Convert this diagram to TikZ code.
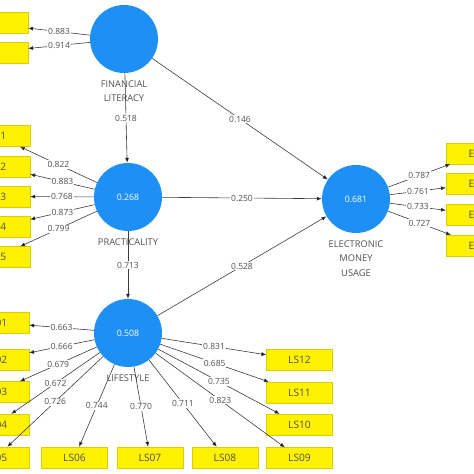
\documentclass[tikz,border=0pt]{standalone}
\usepackage{fontspec}
\setmainfont{Open Sans}
\usetikzlibrary{arrows.meta}
\definecolor{plsblue}{RGB}{30,144,245}
\definecolor{plsyellow}{RGB}{255,242,0}
\definecolor{plsline}{RGB}{60,60,60}
\definecolor{plstext}{RGB}{80,80,80}
\begin{document}
\begin{tikzpicture}[x=1pt,y=-1pt,->,>={Latex[length=5pt,width=4pt]}]
        \tikzstyle{construct}=[circle,fill=plsblue,minimum size=68pt,inner sep=0pt,text=white,font=\fontsize{8.8}{10}\selectfont]
        \tikzstyle{indicator}=[rectangle,fill=plsyellow,draw=plsyellow!85!black,very thin,minimum width=66pt,minimum height=21pt,inner sep=0pt,text=plstext,font=\fontsize{10.2}{12}\selectfont]
        \tikzstyle{cname}=[text=plstext,align=center,font=\fontsize{9.3}{14.5}\selectfont]
        \tikzstyle{coef}=[fill=white,inner sep=1pt,text=plstext,font=\fontsize{8.5}{10}\selectfont]
        \tikzstyle{edge}=[draw=plsline,line width=0.6pt]
       \useasboundingbox (0,0) rectangle (474,474);
       \clip (0,0) rectangle (474,474);
       % constructs
       \node [construct,label={[cname,label distance=4pt]below:FINANCIAL\\LITERACY}] (FL) at (124,39) {};
       \node [construct,label={[cname,label distance=4pt]below:PRACTICALITY}] (PR) at (128,197) {0.268};
       \node [construct,label={[cname,label distance=4pt]below:LIFESTYLE}] (LS) at (128,333) {0.508};
       \node [construct,label={[cname,label distance=4pt]below:ELECTRONIC\\MONEY\\USAGE}] (EMU) at (356,199) {0.681};
       % indicators
       \node [indicator,minimum width=90pt] (FL1) at (-17,23) {FL1};
       \node [indicator,minimum width=90pt] (FL2) at (-17,53) {FL2};
       \node [indicator] (PR1) at (-3,136) {PR1};
       \node [indicator] (PR2) at (-3,166.5) {PR2};
       \node [indicator] (PR3) at (-3,196.5) {PR3};
       \node [indicator] (PR4) at (-3,227) {PR4};
       \node [indicator] (PR5) at (-3,257) {PR5};
       \node [indicator] (LS01) at (-4,322.5) {LS01};
       \node [indicator] (LS02) at (-4,359.5) {LS02};
       \node [indicator] (LS03) at (-4,392) {LS03};
       \node [indicator] (LS04) at (-4,424.5) {LS04};
       \node [indicator] (LS05) at (-4,457.5) {LS05};
       \node [indicator] (LS06) at (74.5,457.5) {LS06};
       \node [indicator] (LS07) at (150,457.5) {LS07};
       \node [indicator] (LS08) at (225,457.5) {LS08};
       \node [indicator] (LS09) at (299.5,458) {LS09};
       \node [indicator] (LS10) at (299.5,424.5) {LS10};
       \node [indicator] (LS11) at (299.5,392.5) {LS11};
       \node [indicator] (LS12) at (299.5,360) {LS12};
       \node [indicator] (EM1) at (479,153.5) {EM1};
       \node [indicator] (EM2) at (479,183.5) {EM2};
       \node [indicator] (EM3) at (479,214.5) {EM3};
       \node [indicator] (EM4) at (479,245.5) {EM4};
       % inner model
       \path[edge] (FL) edge node[coef] {0.518} (PR);
       \path[edge] (FL) edge node[coef] {0.146} (EMU);
       \path[edge] (PR) edge node[coef] {0.250} (EMU);
       \path[edge] (PR) edge node[coef] {0.713} (LS);
       \path[edge] (LS) edge node[coef] {0.528} (EMU);
       % outer model
       \path[edge] (FL) edge node[coef] {0.883} (FL1);
       \path[edge] (FL) edge node[coef] {0.914} (FL2);
       \path[edge] (PR) edge node[coef] {0.822} (PR1);
       \path[edge] (PR) edge node[coef] {0.883} (PR2);
       \path[edge] (PR) edge node[coef] {0.768} (PR3);
       \path[edge] (PR) edge node[coef] {0.873} (PR4);
       \path[edge] (PR) edge node[coef] {0.799} (PR5);
       \path[edge] (LS) edge node[coef] {0.663} (LS01);
       \path[edge] (LS) edge node[coef] {0.666} (LS02);
       \path[edge] (LS) edge node[coef] {0.679} (LS03);
       \path[edge] (LS) edge node[coef] {0.672} (LS04);
       \path[edge] (LS) edge node[coef] {0.726} (LS05);
       \path[edge] (LS) edge node[coef] {0.744} (LS06);
       \path[edge] (LS) edge node[coef] {0.770} (LS07);
       \path[edge] (LS) edge node[coef] {0.711} (LS08);
       \path[edge] (LS) edge node[coef] {0.823} (LS09);
       \path[edge] (LS) edge node[coef] {0.735} (LS10);
       \path[edge] (LS) edge node[coef] {0.685} (LS11);
       \path[edge] (LS) edge node[coef] {0.831} (LS12);
       \path[edge] (EMU) edge node[coef] {0.787} (EM1);
       \path[edge] (EMU) edge node[coef] {0.761} (EM2);
       \path[edge] (EMU) edge node[coef] {0.733} (EM3);
       \path[edge] (EMU) edge node[coef] {0.727} (EM4);
      \end{tikzpicture}
\end{document}
